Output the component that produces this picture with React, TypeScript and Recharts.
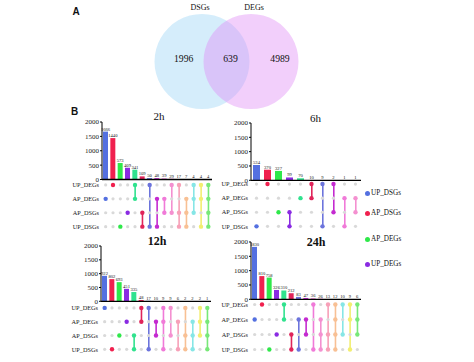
import React from "react";
import { BarChart, Bar, XAxis, YAxis, Cell, LabelList, ComposedChart, Line, PieChart, Pie } from "recharts";

const FONT = "'Times New Roman', 'Liberation Serif', serif";

// row order of the matrix
const setNames = ["UP_DEGs", "AP_DEGs", "AP_DSGs", "UP_DSGs"];

// one colour per intersection column (same sequence in every panel)
const columnColors = [
    "#5470e0", "#f0204e", "#2fe84a", "#8a2be2", "#30e28e",
    "#e0245a", "#6c74dc", "#c42ad0", "#f07ad8", "#f490d0",
    "#f7a0b8", "#f8c094", "#86e6e6", "#f2ee70", "#78e878",
];

// Venn (A)
const vennSets = ["DSGs", "DEGs"];
const vennCounts = [1996, 639, 4989];

// UpSet (B)
const values2h = [1666, 1440, 573, 409, 341, 109, 50, 48, 39, 29, 17, 7, 4, 4, 4];
const sets2h = [[1], [0], [3], [2], [0, 1], [2, 3], [0, 3], [1, 3], [1, 2], [0, 2], [0, 2, 3], [1, 2, 3], [0, 1, 2], [0, 1, 3], [0, 1, 2, 3]];

const values6h = [534, 370, 327, 99, 70, 10, 9, 2, 1, 1];
const sets6h = [[3], [0], [2], [2, 3], [1], [0, 1], [0, 3], [0, 2], [1, 3], [1, 2]];

const values12h = [922, 802, 693, 451, 335, 48, 17, 10, 9, 9, 6, 2, 2, 2, 1];
const sets12h = [[0], [3], [2], [1], [2, 3], [0, 1], [0, 3], [1, 2], [0, 1, 3], [0, 2], [1, 3], [0, 2, 3], [1, 2, 3], [0, 1, 2], [0, 1, 2, 3]];

const values24h = [1830, 810, 758, 326, 310, 212, 83, 47, 36, 26, 13, 12, 10, 9, 6];
const sets24h = [[1], [0], [3], [2], [0, 1], [2, 3], [1, 3], [1, 2], [0, 3], [1, 2, 3], [0, 2, 3], [0, 1, 2, 3], [0, 2], [0, 1, 3], [0, 1, 2]];

const yTicks = [0, 500, 1000, 1500, 2000];

const legendNames = ["UP_DSGs", "AP_DSGs", "AP_DEGs", "UP_DEGs"];
const legendColors = ["#5470e0", "#f0204e", "#2fe84a", "#8a2be2"];

const AXIS_W = 30;
const PLOT_W = 110;
const TOP = 10;
const BOTTOM = 6;

function Txt({ x, y, size, bold, sans, children, anchor = "middle" }: any) {
    return (
        <div style={{
            position: "absolute", left: x, top: y, whiteSpace: "nowrap",
            transform: anchor === "middle" ? "translate(-50%, -50%)" : "translate(0, -50%)",
            fontSize: size, fontWeight: bold ? 700 : 400, lineHeight: 1,
            fontFamily: sans ? "'Liberation Sans', Arial, sans-serif" : FONT, color: "#111",
        }}>{children}</div>
    );
}

function UpsetPanel(p: any) {
    const barData = p.values.map((v: number, i: number) => ({ name: `c${i + 1}`, value: v, color: columnColors[i] }));
    const matrixData = p.sets.map((s: number[], i: number) => ({
        name: `c${i + 1}`,
        range: [Math.min(...s), Math.max(...s)],
        r0: 0, r1: 1, r2: 2, r3: 3,
        sets: s,
        color: columnColors[i],
    }));
    const plotH = p.y0 - p.yTop;

    return (
        <>
            <div style={{ position: "absolute", left: p.x0 - AXIS_W, top: p.yTop - TOP }}>
                <BarChart width={AXIS_W + PLOT_W + 4} height={TOP + plotH + 2 + BOTTOM} data={barData}
                    margin={{ top: TOP, right: 4, left: 0, bottom: BOTTOM }}>
                    <XAxis dataKey="name" height={2} tick={false} tickLine={false}
                        axisLine={{ stroke: "#000", strokeWidth: 1.3 }} />
                    <YAxis width={AXIS_W} domain={[0, 2000]} ticks={yTicks} interval={0}
                        tick={{ fontSize: 7, fontFamily: FONT, fill: "#222" }}
                        tickSize={2} tickMargin={1}
                        axisLine={{ stroke: "#000" }} tickLine={{ stroke: "#000" }} />
                    <Bar dataKey="value" barSize={p.barSize} isAnimationActive={false}>
                        {barData.map((d: any) => <Cell key={d.name} fill={d.color} />)}
                        <LabelList dataKey="value" position="top" offset={1}
                            fontSize={4.6} fontFamily={FONT} fill="#111" />
                    </Bar>
                </BarChart>
            </div>
            <div style={{ position: "absolute", left: p.x0 - AXIS_W, top: p.row0 - p.rowGap / 2 }}>
                <ComposedChart width={AXIS_W + PLOT_W + 4} height={p.rowGap * 4} data={matrixData}
                    margin={{ top: 0, right: 4, left: 0, bottom: 0 }}>
                    <XAxis dataKey="name" hide />
                    <YAxis type="number" width={AXIS_W} domain={[-0.5, 3.5]} ticks={[0, 1, 2, 3]} reversed
                        interval={0} tickFormatter={(v: number) => setNames[v]}
                        axisLine={false} tickLine={false} tickSize={0} tickMargin={3}
                        tick={{ fontSize: 6.3, fontFamily: FONT, fill: "#222" }} />
                    <Bar dataKey="range" barSize={1.6} isAnimationActive={false}>
                        {matrixData.map((d: any) => <Cell key={d.name} fill={d.color} />)}
                    </Bar>
                    {[0, 1, 2, 3].map((r) => (
                        <Line key={r} dataKey={`r${r}`} stroke="none" isAnimationActive={false}
                            activeDot={false} legendType="none"
                            dot={(dp: any) => {
                                const on = dp.payload.sets.includes(r);
                                return (
                                    <circle key={`dot-${r}-${dp.index}`} cx={dp.cx} cy={dp.cy}
                                        r={on ? 2.2 : 1.6} fill={on ? dp.payload.color : "#d9d9d9"} />
                                );
                            }} />
                    ))}
                </ComposedChart>
            </div>
            <Txt x={p.titleX} y={p.titleY} size={p.bold ? 12 : 11} bold={p.bold}>{p.title}</Txt>
        </>
    );
}

export default function App() {
    return (
        <div style={{ position: "absolute", left: 0, top: 0, width: 474, height: 362, background: "#fff", overflow: "hidden" }}>
            {/* Venn */}
            <div style={{ position: "absolute", left: 0, top: 0 }}>
                <PieChart width={474} height={115} margin={{ top: 0, right: 0, bottom: 0, left: 0 }}>
                    <Pie data={[{ name: vennSets[0], value: vennCounts[0] + vennCounts[1] }]} dataKey="value"
                        cx={202} cy={61.5} innerRadius={0} outerRadius={47.5} startAngle={90} endAngle={450}
                        stroke="none" isAnimationActive={false}>
                        <Cell fill="#96d2f5" fillOpacity={0.4} />
                    </Pie>
                    <Pie data={[{ name: vennSets[1], value: vennCounts[1] + vennCounts[2] }]} dataKey="value"
                        cx={251} cy={61.5} innerRadius={0} outerRadius={47.5} startAngle={90} endAngle={450}
                        stroke="none" isAnimationActive={false}>
                        <Cell fill="#e18cf5" fillOpacity={0.42} />
                    </Pie>
                </PieChart>
            </div>
            <Txt x={76} y={12.3} size={10} bold sans>A</Txt>
            <Txt x={200} y={8.3} size={8}>{vennSets[0]}</Txt>
            <Txt x={254} y={8.3} size={8}>{vennSets[1]}</Txt>
            <Txt x={183.7} y={58.5} size={9.7}>{vennCounts[0]}</Txt>
            <Txt x={230.5} y={58.5} size={9.7}>{vennCounts[1]}</Txt>
            <Txt x={280} y={58.5} size={9.7}>{vennCounts[2]}</Txt>

            {/* UpSet panels */}
            <Txt x={74.7} y={112.2} size={10} bold sans>B</Txt>
            <UpsetPanel title="2h" values={values2h} sets={sets2h} x0={101.6} yTop={122} y0={179.5}
                row0={185.3} rowGap={13.9} barSize={5} titleX={159} titleY={116} />
            <UpsetPanel title="6h" values={values6h} sets={sets6h} x0={251} yTop={122.7} y0={180}
                row0={184} rowGap={14.1} barSize={7} titleX={315.5} titleY={118} />
            <UpsetPanel title="12h" values={values12h} sets={sets12h} x0={100.7} yTop={246} y0={301.3}
                row0={308} rowGap={13.8} barSize={5} titleX={157} titleY={241.3} bold />
            <UpsetPanel title="24h" values={values24h} sets={sets24h} x0={250.5} yTop={242} y0={299.3}
                row0={304.7} rowGap={15} barSize={5} titleX={316} titleY={242} bold />

            {/* legend */}
            {legendNames.map((n, i) => (
                <div key={n} style={{ position: "absolute", left: 364.5, top: [193, 213, 239, 264.3][i] - 5, height: 10, display: "flex", alignItems: "center" }}>
                    <span style={{ width: 5, height: 5, borderRadius: "50%", background: legendColors[i], marginRight: 1.5 }} />
                    <span style={{ fontFamily: FONT, fontSize: 7.2, color: "#111" }}>{n}</span>
                </div>
            ))}
        </div>
    );
}
